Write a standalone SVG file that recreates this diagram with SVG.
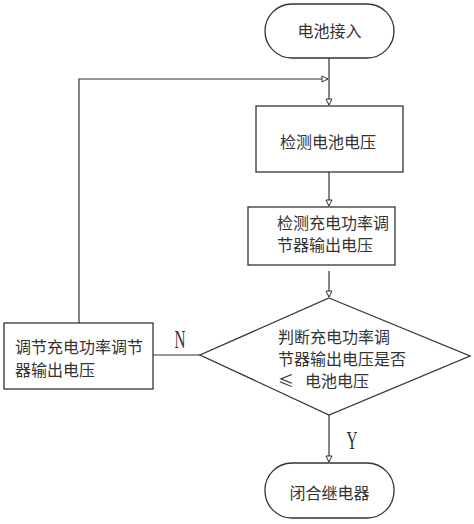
<svg xmlns="http://www.w3.org/2000/svg" width="474" height="524" viewBox="0 0 474 524">
<defs>
<style>
.shape{fill:#fff;stroke:#333;stroke-width:1.3}
.conn{fill:none;stroke:#333;stroke-width:1.2}
.t{font-family:"Noto Sans CJK SC","Noto Sans",sans-serif;font-size:16px;fill:#333}
.lbl{font-family:"Liberation Serif",serif;font-size:26px;fill:#333}
</style>
<marker id="arr" markerWidth="8" markerHeight="8" refX="7" refY="4" orient="auto" markerUnits="userSpaceOnUse">
<path d="M1,1 L7,4 L1,7 Z" fill="#fff" stroke="#333" stroke-width="1"/>
</marker>
</defs>
<rect width="474" height="524" fill="#fff"/>
<g id="connectors">
<path class="conn" d="M329,58 V105" marker-end="url(#arr)"/>
<path class="conn" d="M79,323 V79 H328" marker-end="url(#arr)"/>
<path class="conn" d="M329,172 V206" marker-end="url(#arr)"/>
<path class="conn" d="M329,271 V297" marker-end="url(#arr)"/>
<path class="conn" d="M200,355 H153"/>
<path class="conn" d="M329,415 V462" marker-end="url(#arr)"/>
<text class="lbl" x="180" y="348" text-anchor="middle" textLength="11" lengthAdjust="spacingAndGlyphs">N</text>
<text class="lbl" x="352" y="449" text-anchor="middle" textLength="11" lengthAdjust="spacingAndGlyphs">Y</text>
</g>
<g id="start">
<rect class="shape" x="265" y="4" width="129" height="54" rx="27" ry="27"/>
<text class="t" x="329.5" y="37" text-anchor="middle">电池接入</text>
</g>
<g id="detect-battery">
<rect class="shape" x="256" y="106" width="147" height="66"/>
<text class="t" x="328" y="148" text-anchor="middle">检测电池电压</text>
</g>
<g id="detect-regulator">
<rect class="shape" x="248" y="207" width="147" height="58"/>
<text class="t" x="277" y="229">检测充电功率调</text>
<text class="t" x="277" y="251">节器输出电压</text>
</g>
<g id="decision">
<polygon class="shape" points="329,298 470,356 329,415 200,355"/>
<text class="t" x="278" y="343">判断充电功率调</text>
<text class="t" x="278" y="365">节器输出电压是否</text>
<text class="t" x="278" y="387">≤ <tspan x="305">电池电压</tspan></text>
</g>
<g id="adjust">
<rect class="shape" x="4" y="323" width="149" height="66"/>
<text class="t" x="15" y="353">调节充电功率调节</text>
<text class="t" x="15" y="376">器输出电压</text>
</g>
<g id="end">
<rect class="shape" x="265" y="463" width="129" height="55" rx="27" ry="27"/>
<text class="t" x="329.5" y="499" text-anchor="middle">闭合继电器</text>
</g>
</svg>
